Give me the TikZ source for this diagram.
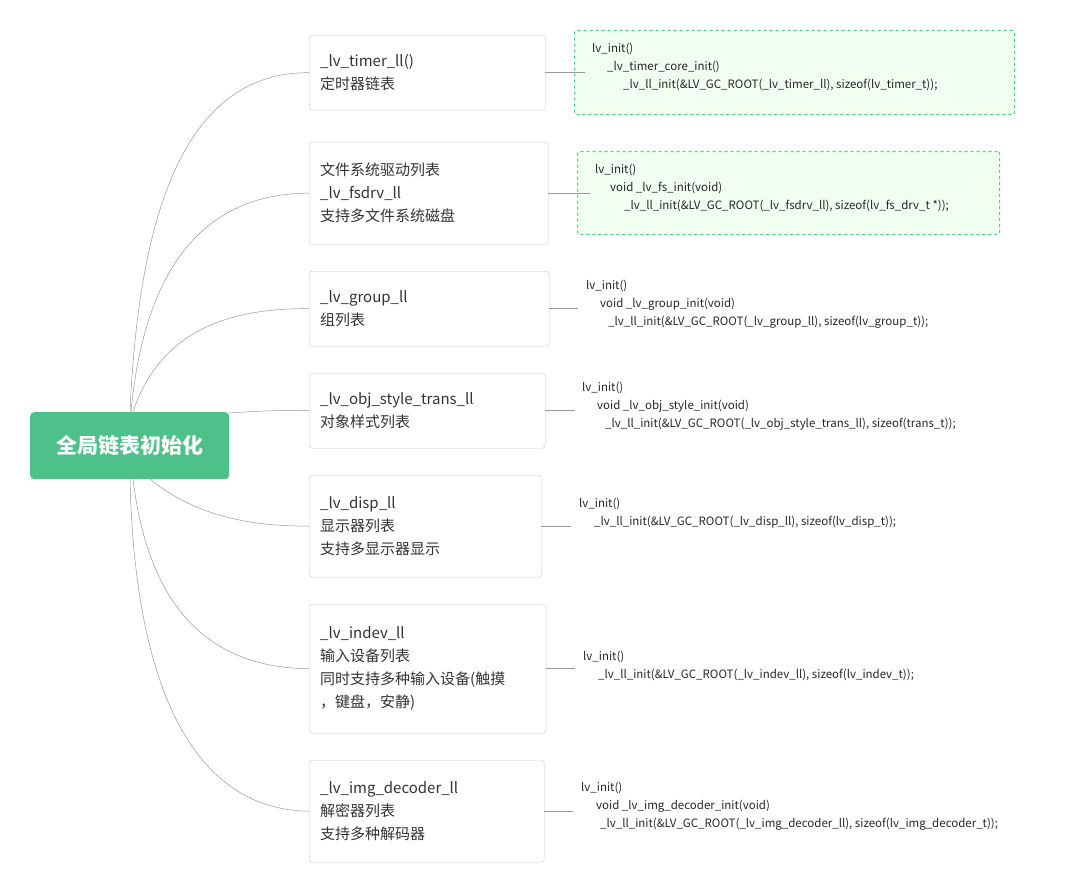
\documentclass[tikz,border=0pt]{standalone}
\usepackage{fontspec}
\setmainfont{Noto Sans CJK SC}
\begin{document}
\begin{tikzpicture}[x=1pt,y=-1pt,
  box/.style={draw=black!22,rounded corners=3pt,anchor=north west,align=left,inner xsep=11pt,inner ysep=0pt,font=\fontsize{15}{23}\selectfont,text=black!80},
  code/.style={anchor=west,align=left,inner sep=0pt,font=\fontsize{11.5}{18}\selectfont,text=black!85},
  cbox/.style={draw=green!50!teal!70,line width=1.2pt,dashed,fill=green!6,rounded corners=2pt,anchor=north west,inner sep=0pt},
  lnk/.style={draw=black!40,line width=0.5pt}]
\useasboundingbox (0,0) rectangle (1083,893);
\node[fill={rgb,255:red,77;green,193;blue,137},rounded corners=4pt,anchor=north west,minimum width=199pt,minimum height=67pt,text=white,font=\fontsize{21}{24}\selectfont\bfseries] (root) at (30,412) {全局链表初始化};
% boxes
\node[box,minimum width=236pt,minimum height=75pt,text width=214pt] (b1) at (309,35) {\_lv\_timer\_ll()\\定时器链表};
\node[box,minimum width=239pt,minimum height=102pt,text width=217pt] (b2) at (309,142) {文件系统驱动列表\\\_lv\_fsdrv\_ll\\支持多文件系统磁盘};
\node[box,minimum width=240pt,minimum height=75pt,text width=218pt] (b3) at (309,271) {\_lv\_group\_ll\\组列表};
\node[box,minimum width=236pt,minimum height=75pt,text width=214pt] (b4) at (309,373) {\_lv\_obj\_style\_trans\_ll\\对象样式列表};
\node[box,minimum width=232pt,minimum height=102pt,text width=210pt] (b5) at (309,475) {\_lv\_disp\_ll\\显示器列表\\支持多显示器显示};
\node[box,minimum width=237pt,minimum height=129pt,text width=215pt] (b6) at (309,604) {\_lv\_indev\_ll\\输入设备列表\\同时支持多种输入设备(触摸\\，键盘，安静)};
\node[box,minimum width=235pt,minimum height=102pt,text width=213pt] (b7) at (309,760) {\_lv\_img\_decoder\_ll\\解密器列表\\支持多种解码器};
% curves
\draw[lnk] (130,412) .. controls (140,180) and (200,72) .. (b1.west);
\draw[lnk] (131,412) .. controls (145,260) and (210,193) .. (b2.west);
\draw[lnk] (133,412) .. controls (160,330) and (230,308) .. (b3.west);
\draw[lnk] (229,413) .. controls (260,411) and (280,410) .. (b4.west);
\draw[lnk] (150,479) .. controls (200,520) and (260,526) .. (b5.west);
\draw[lnk] (133,479) .. controls (150,620) and (220,668) .. (b6.west);
\draw[lnk] (130,479) .. controls (135,700) and (200,810) .. (b7.west);
% code boxes
\node[cbox,minimum width=440pt,minimum height=84pt] (c1) at (574,30) {};
\node[cbox,minimum width=422pt,minimum height=83pt] (c2) at (577,151) {};
\coordinate (k1) at (585,0);
\coordinate (k2) at (590,0);
\coordinate (k3) at (578,0);
\coordinate (k4) at (575,0);
\coordinate (k5) at (571,0);
\coordinate (k6) at (575,0);
\coordinate (k7) at (573,0);
\foreach \i in {1,...,7}{\draw[lnk] (b\i.east) -- (b\i.east -| k\i);}
\node[code] (t1) at (592,67) {lv\_init()\\\hspace{15pt}\_lv\_timer\_core\_init()\\\hspace{31pt}\_lv\_ll\_init(\&LV\_GC\_ROOT(\_lv\_timer\_ll), sizeof(lv\_timer\_t));};
\node[code] (t2) at (595,188) {lv\_init()\\\hspace{15pt}void \_lv\_fs\_init(void)\\\hspace{29pt}\_lv\_ll\_init(\&LV\_GC\_ROOT(\_lv\_fsdrv\_ll), sizeof(lv\_fs\_drv\_t *));};
\node[code] (t3) at (586,304) {lv\_init()\\\hspace{14pt}void \_lv\_group\_init(void)\\\hspace{22pt}\_lv\_ll\_init(\&LV\_GC\_ROOT(\_lv\_group\_ll), sizeof(lv\_group\_t));};
\node[code] (t4) at (582,406) {lv\_init()\\\hspace{15pt}void \_lv\_obj\_style\_init(void)\\\hspace{23pt}\_lv\_ll\_init(\&LV\_GC\_ROOT(\_lv\_obj\_style\_trans\_ll), sizeof(trans\_t));};
\node[code] (t5) at (579,513) {lv\_init()\\\hspace{15pt}\_lv\_ll\_init(\&LV\_GC\_ROOT(\_lv\_disp\_ll), sizeof(lv\_disp\_t));};
\node[code] (t6) at (583,666) {lv\_init()\\\hspace{15pt}\_lv\_ll\_init(\&LV\_GC\_ROOT(\_lv\_indev\_ll), sizeof(lv\_indev\_t));};
\node[code] (t7) at (581,806) {lv\_init()\\\hspace{15pt}void \_lv\_img\_decoder\_init(void)\\\hspace{19pt}\_lv\_ll\_init(\&LV\_GC\_ROOT(\_lv\_img\_decoder\_ll), sizeof(lv\_img\_decoder\_t));};
\end{tikzpicture}
\end{document}
